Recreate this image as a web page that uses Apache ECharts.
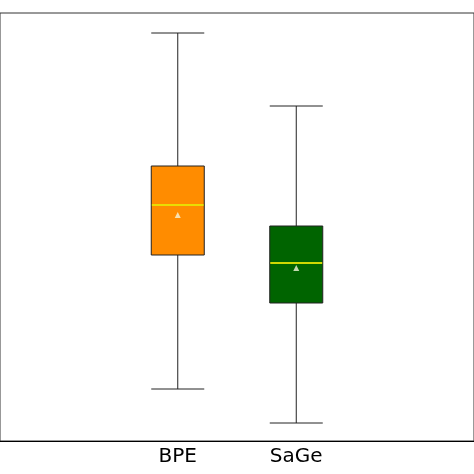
<!DOCTYPE html><html><head><meta charset="utf-8"><script src="https://cdn.jsdelivr.net/npm/echarts@6/dist/echarts.min.js"></script></head><body style="margin:0"><div id="c" style="width:474px;height:474px"></div><script>
const categories=['','BPE','SaGe',''];
const boxData=[[52,186,236,275,408],[18,138,178,215,335]];
const medians=[236,178];
const means=[226,173];
const colors=['#ff8c00','#006400'];
const empty=['-','-','-','-','-'];
const ch=echarts.init(document.getElementById('c'));
ch.setOption({animation:false,
grid:{left:-102.5,width:700,top:13,height:428,show:true,borderColor:'#333',borderWidth:1},
xAxis:{type:'category',data:categories,axisLine:{lineStyle:{color:'#000'}},axisTick:{alignWithLabel:true,length:5,lineStyle:{color:'#000'}},axisLabel:{fontSize:20,color:'#000',fontFamily:'DejaVu Sans',margin:6}},
yAxis:{type:'value',min:0,max:428,show:false,splitLine:{show:false}},
series:[{type:'boxplot',boxWidth:[53,53],data:[{value:empty},{value:boxData[0],itemStyle:{color:colors[0]}},{value:boxData[1],itemStyle:{color:colors[1]}},{value:empty}],itemStyle:{borderColor:'#222',borderWidth:1}},
{type:'scatter',symbol:'rect',symbolSize:[52,2],itemStyle:{color:'#ffff00'},data:[[1,medians[0]],[2,medians[1]]],z:5},
{type:'scatter',symbol:'triangle',symbolSize:6,itemStyle:{color:'#f5f5dc'},data:[[1,means[0]],[2,means[1]]],z:6}]});
</script></body></html>
